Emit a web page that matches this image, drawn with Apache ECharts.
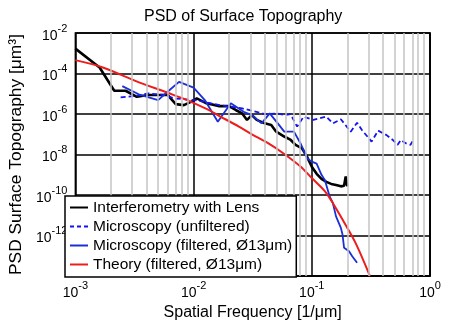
<!DOCTYPE html>
<html><head><meta charset="utf-8">
<script src="https://cdn.jsdelivr.net/npm/echarts@6/dist/echarts.min.js"></script>
<style>html,body{margin:0;padding:0;background:#fff}#c{width:474px;height:326px}</style>
</head><body><div id="c"></div>
<script>
const FONT = '"Liberation Sans", Arial, Helvetica, sans-serif';

// Axes are decades: values below are log10 of frequency [1/um] and PSD [um^3]
const xMinExp = -3, xMaxExp = 0;
const yMinExp = -14, yMaxExp = -2;
const xDecades = [-3, -2, -1];          // minor gridlines at 2..9 x 10^d
const minorMultipliers = [2, 3, 4, 5, 6, 7, 8, 9];

const seriesNames = ['Interferometry with Lens', 'Microscopy (unfiltered)', 'Microscopy (filtered, Ø13μm)', 'Theory (filtered, Ø13μm)'];

const interfLogF = [-3.0, -2.795, -2.671, -2.575, -2.48, -2.384, -2.22, -2.151, -2.082, -2.0, -1.973, -1.891, -1.781, -1.70, -1.644, -1.589, -1.548, -1.507, -1.466, -1.398, -1.343, -1.301, -1.233, -1.178, -1.137, -1.083, -1.041, -1.0, -0.959, -0.918, -0.877, -0.836, -0.795, -0.754, -0.727, -0.713, -0.70];
const interfLogP = [-2.77, -3.70, -4.85, -4.85, -5.15, -5.06, -5.06, -5.51, -5.56, -5.34, -5.23, -5.47, -5.61, -5.61, -5.80, -5.97, -6.29, -6.05, -6.29, -6.46, -6.54, -6.87, -7.11, -7.28, -7.52, -7.69, -8.10, -8.60, -8.95, -9.20, -9.35, -9.45, -9.50, -9.57, -9.54, -9.08, -9.57];

const unfiltLogF = [-2.617, -2.493, -2.384, -2.247, -2.164, -1.987, -1.781, -1.589, -1.398, -1.288, -1.233, -1.18, -1.124, -1.069, -0.987, -0.877, -0.822, -0.754, -0.671, -0.617, -0.576, -0.494, -0.439, -0.37, -0.315, -0.274, -0.247, -0.206, -0.165, -0.138];
const unfiltLogP = [-5.18, -5.11, -4.98, -5.06, -5.23, -5.31, -5.56, -5.72, -6.0, -5.97, -6.05, -6.0, -6.62, -6.13, -6.29, -6.13, -6.46, -6.26, -6.87, -6.43, -6.79, -7.36, -6.82, -7.03, -7.28, -7.52, -7.28, -7.44, -7.52, -7.24];

const filtLogF = [-2.603, -2.452, -2.30, -2.22, -2.123, -2.0, -1.905, -1.795, -1.685, -1.576, -1.507, -1.425, -1.356, -1.288, -1.233, -1.151, -1.096, -1.041, -1.0, -0.959, -0.918, -0.89, -0.849, -0.822, -0.795, -0.754, -0.74, -0.727, -0.685, -0.658, -0.617];
const filtLogP = [-4.62, -5.06, -5.31, -4.90, -4.41, -4.70, -5.31, -6.38, -5.47, -5.89, -6.05, -6.46, -5.97, -6.46, -6.87, -6.87, -7.44, -8.18, -8.35, -8.45, -9.0, -9.25, -10.07, -10.39, -11.05, -11.62, -11.95, -12.60, -12.77, -13.02, -13.34];

const theoryLogF = [-3.0, -2.767, -2.493, -2.22, -2.055, -1.891, -1.781, -1.617, -1.507, -1.37, -1.233, -1.096, -1.0, -0.877, -0.74, -0.63, -0.508];
const theoryLogP = [-3.34, -3.70, -4.36, -4.95, -5.31, -5.75, -6.10, -6.62, -7.0, -7.44, -7.97, -8.59, -9.16, -9.90, -11.21, -12.36, -14.0];

const pair = (xs, ys) => xs.map((x, i) => [x, ys[i]]);
const minorLines = [];
xDecades.forEach(d => minorMultipliers.forEach(m => minorLines.push({ xAxis: d + Math.log10(m) })));

const supLabel = v => '{b|10}{s|' + Math.round(v) + '}';
const richSup = {
  b: { fontSize: 14, lineHeight: 20, verticalAlign: 'bottom', color: '#000', fontFamily: FONT },
  s: { fontSize: 11, lineHeight: 11, verticalAlign: 'top', color: '#000', fontFamily: FONT }
};

const solidIcon = 'path://M0,0h18v2h-18z';
const dashIcon = 'path://M0,0h4v2h-4zM7,0h4v2h-4zM14,0h4v2h-4z';

const chart = echarts.init(document.getElementById('c'), null, { renderer: 'canvas' });
chart.setOption({
  animation: false,
  backgroundColor: '#fff',
  textStyle: { fontFamily: FONT },
  title: {
    text: 'PSD of Surface Topography', left: 144, top: 9, padding: 0,
    textStyle: { fontSize: 16, fontWeight: 'normal', color: '#000', fontFamily: FONT }
  },
  grid: { left: 65, right: 44, top: 33, bottom: 49, show: true, borderColor: '#000', borderWidth: 1.5, backgroundColor: 'transparent' },
  legend: {
    data: [
      { name: seriesNames[0], icon: solidIcon },
      { name: seriesNames[1], icon: dashIcon },
      { name: seriesNames[2], icon: solidIcon },
      { name: seriesNames[3], icon: solidIcon }
    ],
    orient: 'vertical', left: 65, top: 196, z: 100,
    padding: [2, 4, 3, 5], itemGap: 0, itemWidth: 18, itemHeight: 2,
    backgroundColor: '#fff', borderColor: '#000', borderWidth: 1.5, borderRadius: 0,
    textStyle: { fontSize: 15.5, lineHeight: 19, color: '#000', fontFamily: FONT },
    selectedMode: false
  },
  xAxis: {
    type: 'value', min: xMinExp, max: xMaxExp, interval: 1,
    name: 'Spatial Frequency [1/μm]', nameLocation: 'middle', nameGap: 27,
    nameTextStyle: { fontSize: 16, color: '#000', fontFamily: FONT },
    axisLine: { show: true, lineStyle: { color: '#000', width: 1.5 } },
    axisTick: { show: false },
    axisLabel: { margin: 4, formatter: supLabel, rich: richSup },
    splitLine: { show: true, lineStyle: { color: '#000', width: 1.5 } }
  },
  yAxis: {
    type: 'value', min: yMinExp, max: yMaxExp, interval: 2,
    name: 'PSD Surface Topography [μm³]', nameLocation: 'middle', nameGap: 42,
    nameTextStyle: { fontSize: 17.4, color: '#000', fontFamily: FONT },
    axisLine: { show: true, lineStyle: { color: '#000', width: 1.5 } },
    axisTick: { show: false },
    axisLabel: { margin: 8, formatter: v => (v === yMinExp ? '' : supLabel(v)), rich: richSup },
    splitLine: { show: true, lineStyle: { color: '#000', width: 1.5 } }
  },
  series: [
    {
      type: 'line', name: '_minor', data: [], z: 1, silent: true,
      markLine: { silent: true, symbol: 'none', label: { show: false }, animation: false,
        lineStyle: { color: '#c4c4c4', width: 1.5, type: 'solid' }, data: minorLines }
    },
    { type: 'line', name: seriesNames[0], data: pair(interfLogF, interfLogP), symbol: 'none', z: 2,
      lineStyle: { color: '#000000', width: 2.6 }, itemStyle: { color: '#000000' } },
    { type: 'line', name: seriesNames[1], data: pair(unfiltLogF, unfiltLogP), symbol: 'none', z: 2,
      lineStyle: { color: '#1414f0', width: 1.8, type: [5, 3] }, itemStyle: { color: '#1414f0' } },
    { type: 'line', name: seriesNames[2], data: pair(filtLogF, filtLogP), symbol: 'none', z: 2,
      lineStyle: { color: '#1a2fd6', width: 1.8 }, itemStyle: { color: '#1a2fd6' } },
    { type: 'line', name: seriesNames[3], data: pair(theoryLogF, theoryLogP), symbol: 'none', z: 2, smooth: 0.3,
      lineStyle: { color: '#ee1c1c', width: 2 }, itemStyle: { color: '#ee1c1c' } }
  ]
});
</script>
</body></html>
